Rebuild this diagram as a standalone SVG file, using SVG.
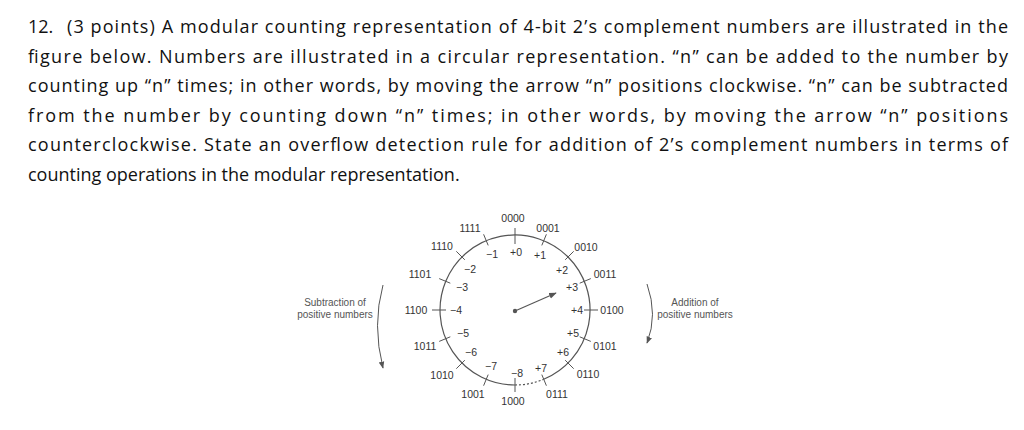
<svg xmlns="http://www.w3.org/2000/svg" width="1024" height="430" viewBox="0 0 1024 430">
<style>
.q{font-family:"Open Sans","Liberation Sans",sans-serif;font-size:18px;fill:#111}
.l{font-family:"Liberation Sans",Arial,sans-serif;font-size:10.5px;fill:#333;text-anchor:middle;dominant-baseline:middle}
.s{font-family:"Liberation Sans",Arial,sans-serif;font-size:10px;fill:#555;text-anchor:middle}
.t{stroke:#555;stroke-width:1}
</style>
<defs><marker id="ah" viewBox="0 0 10 10" refX="9" refY="5" markerWidth="7" markerHeight="7" orient="auto"><path d="M0,1L10,5L0,9z" fill="#555"/></marker></defs>
<rect width="1024" height="430" fill="#fff"/>
<g id="question">
<text class="q" x="28" y="33">12.</text>
<text class="q" x="67" y="33" textLength="941" lengthAdjust="spacing">(3 points) A modular counting representation of 4-bit 2’s complement numbers are illustrated in the</text>
<text class="q" x="28" y="63" textLength="980" lengthAdjust="spacing">figure below. Numbers are illustrated in a circular representation. “n” can be added to the number by</text>
<text class="q" x="28" y="92" textLength="980" lengthAdjust="spacing">counting up “n” times; in other words, by moving the arrow “n” positions clockwise. “n” can be subtracted</text>
<text class="q" x="28" y="122" textLength="980" lengthAdjust="spacing">from the number by counting down “n” times; in other words, by moving the arrow “n” positions</text>
<text class="q" x="28" y="151" textLength="980" lengthAdjust="spacing">counterclockwise. State an overflow detection rule for addition of 2’s complement numbers in terms of</text>
<text class="q" x="28" y="181">counting operations in the modular representation.</text>
</g>
<g id="dial">
<path d="M515,385 A75,75 0 1 1 543.7,379.3" fill="none" stroke="#555" stroke-width="1.2"/>
<path d="M515,385 A75,75 0 0 0 543.7,379.3" fill="none" stroke="#555" stroke-width="1.2" stroke-dasharray="2,2"/>
<g class="t">
<line x1="515" y1="228" x2="515" y2="244"/>
<line x1="546.4" y1="234.3" x2="541.8" y2="245.4"/>
<line x1="573.7" y1="251.3" x2="565.2" y2="259.8"/>
<line x1="590.8" y1="278.6" x2="579.7" y2="283.2"/>
<line x1="584" y1="310" x2="598" y2="310"/>
<line x1="579.7" y1="336.8" x2="590.8" y2="341.4"/>
<line x1="565.2" y1="360.2" x2="573.7" y2="368.7"/>
<line x1="541.8" y1="374.6" x2="546.4" y2="385.7"/>
<line x1="515" y1="378" x2="515" y2="392"/>
<line x1="488.2" y1="374.6" x2="483.6" y2="385.7"/>
<line x1="464.8" y1="360.2" x2="456.3" y2="368.7"/>
<line x1="450.3" y1="336.8" x2="439.2" y2="341.4"/>
<line x1="432" y1="310" x2="446" y2="310"/>
<line x1="439.2" y1="278.6" x2="450.3" y2="283.2"/>
<line x1="456.3" y1="251.3" x2="464.8" y2="259.8"/>
<line x1="483.6" y1="234.3" x2="488.2" y2="245.4"/>
</g>
<circle cx="515" cy="311" r="2.2" fill="#555"/>
<line x1="515" y1="311" x2="556" y2="293" stroke="#555" stroke-width="1.1" marker-end="url(#ah)"/>
</g>
<g id="labels">
<text class="l" x="513" y="219">0000</text><text class="l" x="548" y="229">0001</text>
<text class="l" x="586" y="248">0010</text><text class="l" x="605" y="275">0011</text>
<text class="l" x="612" y="311">0100</text><text class="l" x="605" y="347">0101</text>
<text class="l" x="588" y="375">0110</text><text class="l" x="557" y="395">0111</text>
<text class="l" x="513" y="402">1000</text><text class="l" x="473" y="395">1001</text>
<text class="l" x="442" y="376">1010</text><text class="l" x="425" y="347">1011</text>
<text class="l" x="416" y="311">1100</text><text class="l" x="420" y="275">1101</text>
<text class="l" x="442" y="247">1110</text><text class="l" x="470" y="229">1111</text>
<text class="l" x="516" y="253">+0</text><text class="l" x="540" y="256">+1</text>
<text class="l" x="562" y="271">+2</text><text class="l" x="572" y="288">+3</text>
<text class="l" x="577" y="311">+4</text><text class="l" x="573" y="334">+5</text>
<text class="l" x="563" y="353">+6</text><text class="l" x="541" y="369">+7</text>
<text class="l" x="517" y="374">−8</text><text class="l" x="491" y="367">−7</text>
<text class="l" x="471" y="353">−6</text><text class="l" x="463" y="334">−5</text>
<text class="l" x="456" y="311">−4</text><text class="l" x="462" y="288">−3</text>
<text class="l" x="470" y="270">−2</text><text class="l" x="492" y="255">−1</text>
</g>
<g id="connectors">
<path d="M383,285 Q372,325 383,368" fill="none" stroke="#555" stroke-width="1" marker-end="url(#ah)"/>
<path d="M647,284 Q658,315 647,343" fill="none" stroke="#555" stroke-width="1" marker-end="url(#ah)"/>
</g>
<g id="side">
<text class="s" x="335" y="306">Subtraction of</text><text class="s" x="335" y="318">positive numbers</text>
<text class="s" x="695" y="306">Addition of</text><text class="s" x="695" y="318">positive numbers</text>
</g>
</svg>
